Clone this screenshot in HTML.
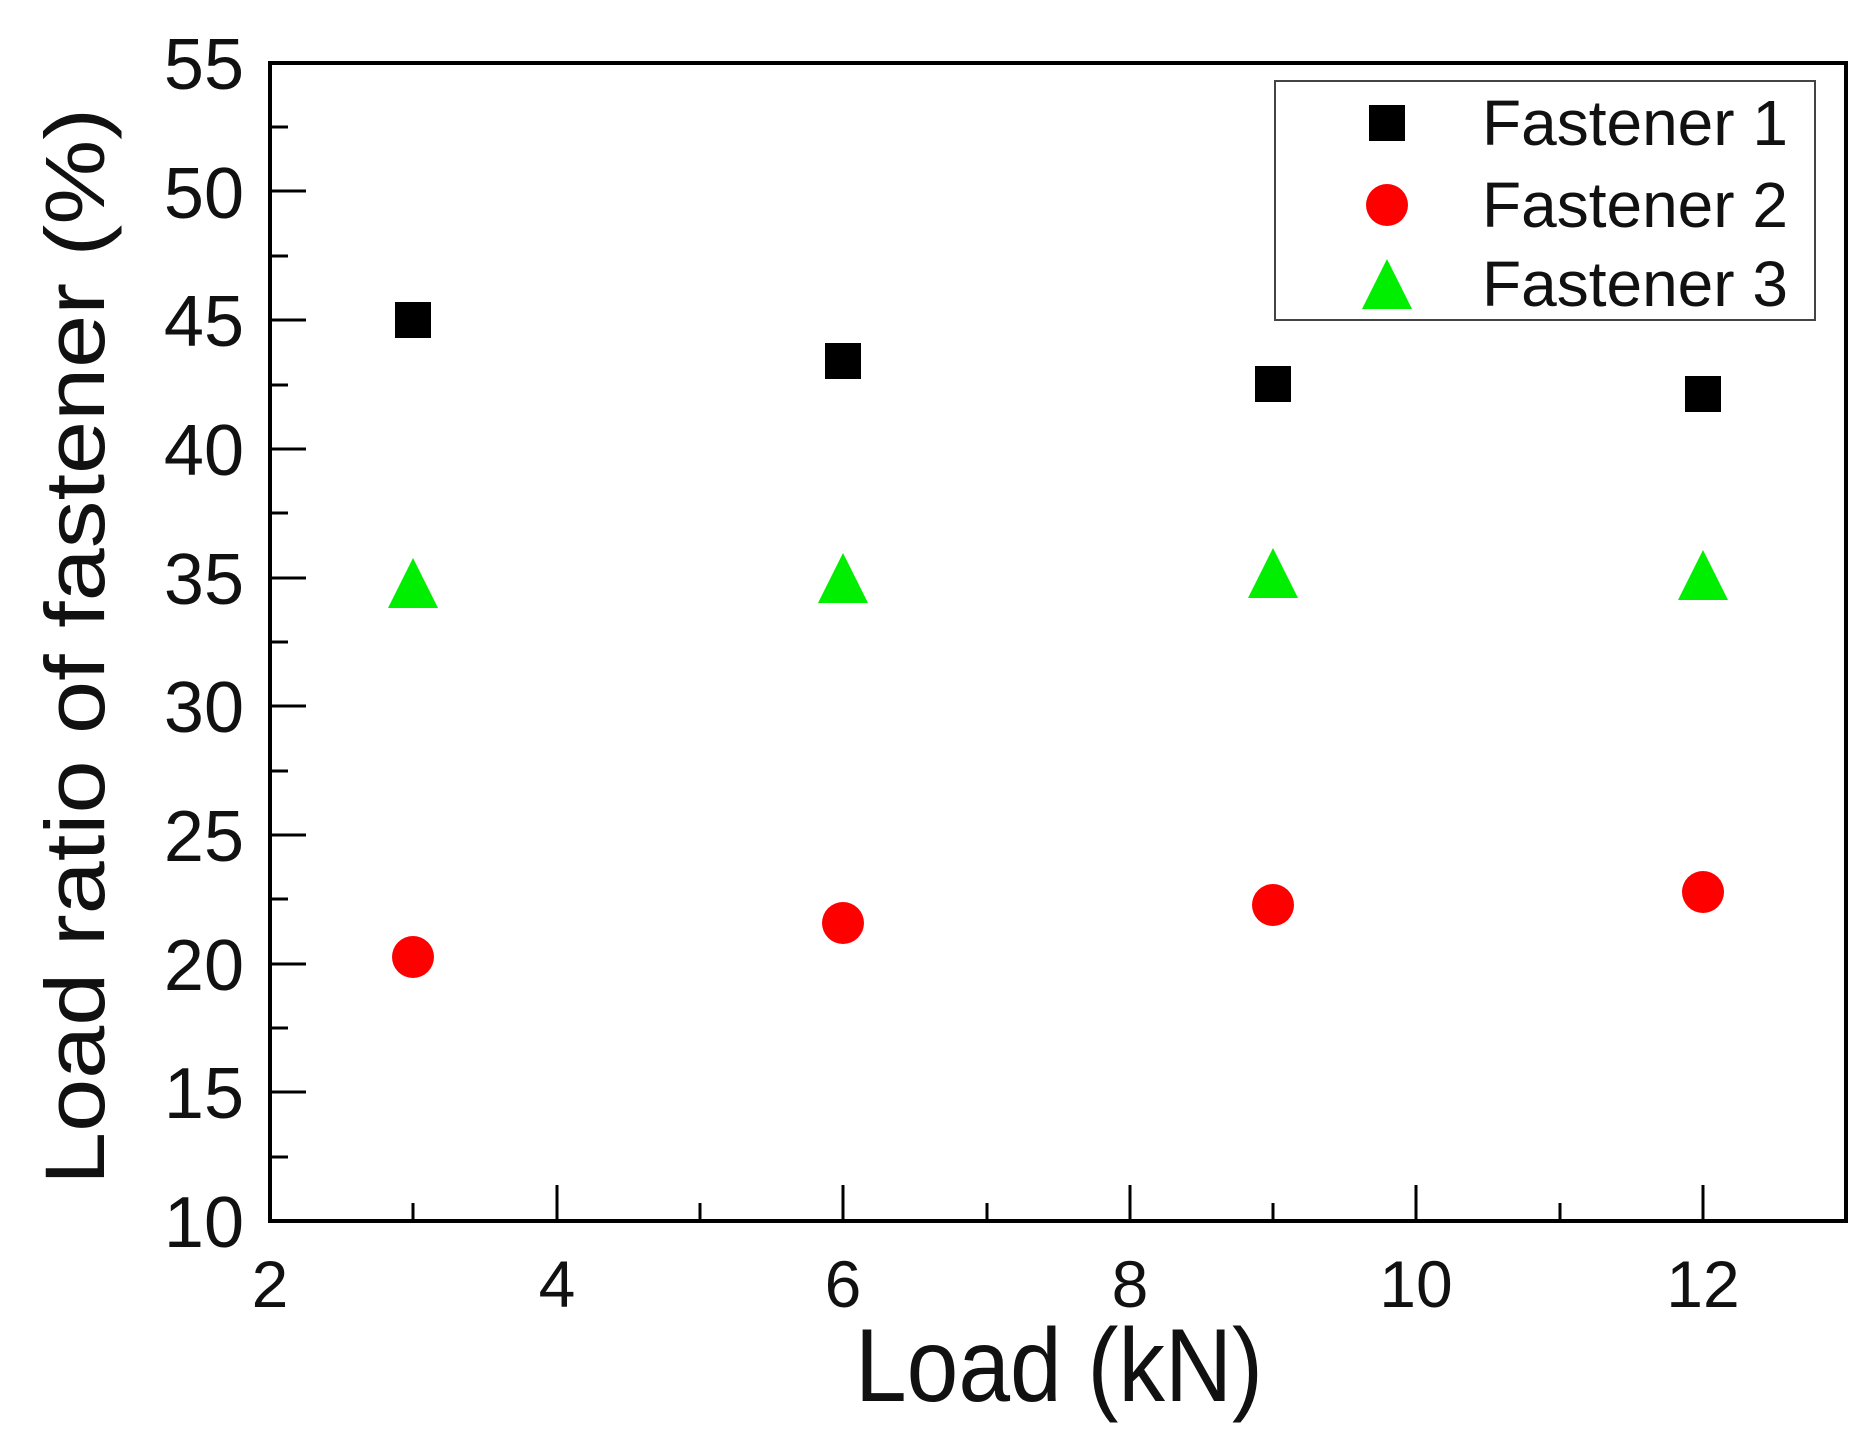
<!DOCTYPE html>
<html><head><meta charset="utf-8"><style>html,body{margin:0;padding:0;background:#fff}svg{display:block}</style></head>
<body>
<svg width="1875" height="1437" viewBox="0 0 1875 1437" xmlns="http://www.w3.org/2000/svg" font-family="Liberation Sans, Arial, sans-serif">
<g stroke="#000" stroke-width="3">
<line x1="270" y1="127" x2="288" y2="127"/><line x1="270" y1="191" x2="306" y2="191"/>
<line x1="270" y1="256" x2="288" y2="256"/><line x1="270" y1="320" x2="306" y2="320"/>
<line x1="270" y1="385" x2="288" y2="385"/><line x1="270" y1="449" x2="306" y2="449"/>
<line x1="270" y1="513" x2="288" y2="513"/><line x1="270" y1="578" x2="306" y2="578"/>
<line x1="270" y1="642" x2="288" y2="642"/><line x1="270" y1="706" x2="306" y2="706"/>
<line x1="270" y1="771" x2="288" y2="771"/><line x1="270" y1="835" x2="306" y2="835"/>
<line x1="270" y1="899" x2="288" y2="899"/><line x1="270" y1="964" x2="306" y2="964"/>
<line x1="270" y1="1028" x2="288" y2="1028"/><line x1="270" y1="1092" x2="306" y2="1092"/>
<line x1="270" y1="1157" x2="288" y2="1157"/>
<line x1="413" y1="1221" x2="413" y2="1203"/><line x1="557" y1="1221" x2="557" y2="1185"/>
<line x1="700" y1="1221" x2="700" y2="1203"/><line x1="843" y1="1221" x2="843" y2="1185"/>
<line x1="987" y1="1221" x2="987" y2="1203"/><line x1="1130" y1="1221" x2="1130" y2="1185"/>
<line x1="1273" y1="1221" x2="1273" y2="1203"/><line x1="1416" y1="1221" x2="1416" y2="1185"/>
<line x1="1560" y1="1221" x2="1560" y2="1203"/><line x1="1703" y1="1221" x2="1703" y2="1185"/>
</g>
<rect x="270" y="63" width="1576" height="1158" fill="none" stroke="#000" stroke-width="4"/>
<g font-size="72" text-anchor="end" fill="#111">
<text x="244" y="89">55</text><text x="244" y="218">50</text><text x="244" y="346">45</text>
<text x="244" y="475">40</text><text x="244" y="604">35</text><text x="244" y="732">30</text>
<text x="244" y="861">25</text><text x="244" y="990">20</text><text x="244" y="1118">15</text>
<text x="244" y="1247">10</text>
</g>
<g font-size="66" text-anchor="middle" fill="#111">
<text x="270" y="1307">2</text><text x="557" y="1307">4</text><text x="843" y="1307">6</text>
<text x="1130" y="1307">8</text><text x="1416" y="1307">10</text><text x="1703" y="1307">12</text>
</g>
<text x="855" y="1401" font-size="104" textLength="408" lengthAdjust="spacingAndGlyphs" fill="#111">Load (kN)</text>
<text transform="translate(104,1185) rotate(-90)" font-size="84" textLength="1077" lengthAdjust="spacingAndGlyphs" fill="#111">Load ratio of fastener (%)</text>
<g fill="#000">
<rect x="395" y="302" width="36" height="36"/><rect x="825" y="343" width="36" height="36"/>
<rect x="1255" y="366" width="36" height="36"/><rect x="1685" y="376" width="36" height="36"/>
</g>
<g fill="#ff0000">
<circle cx="413" cy="957" r="21"/><circle cx="843" cy="923" r="21"/>
<circle cx="1273" cy="905" r="21"/><circle cx="1703" cy="892" r="21"/>
</g>
<g fill="#00ee00">
<polygon points="413,558 388,608 438,608"/><polygon points="843,553 818,603 868,603"/>
<polygon points="1273,548 1248,598 1298,598"/><polygon points="1703,550 1678,600 1728,600"/>
</g>
<rect x="1275" y="81" width="540" height="239" fill="#fff" stroke="#444" stroke-width="2"/>
<rect x="1369" y="105" width="36" height="36" fill="#000"/>
<circle cx="1387" cy="205" r="21" fill="#ff0000"/>
<polygon points="1387,259 1362,309 1412,309" fill="#00ee00"/>
<g font-size="64" fill="#111">
<text x="1482" y="145">Fastener 1</text>
<text x="1482" y="227">Fastener 2</text>
<text x="1482" y="306">Fastener 3</text>
</g>
</svg>
</body></html>
